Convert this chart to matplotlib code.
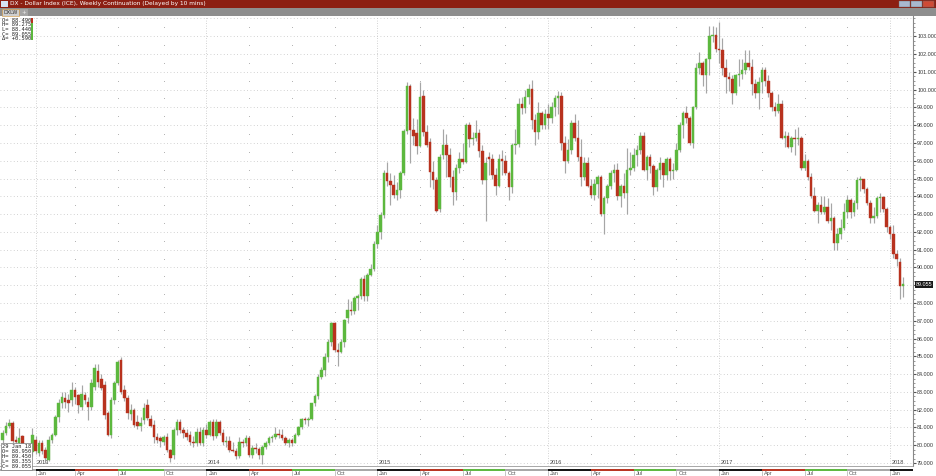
"""Weekly candlestick chart of the Dollar Index (ICE), Oct 2012 - Jan 2018."""
import matplotlib
matplotlib.use("Agg")
import matplotlib.pyplot as plt
from matplotlib.patches import Rectangle
import numpy as np
import pandas as pd

# --- Data: weekly OHLC, first bar is the week of 29 Oct 2012 ---
START_WEEK = "2012-10-29"

opens = [
    80.30, 80.67, 81.08, 81.25, 80.30, 80.12, 80.50, 79.96, 79.55, 79.60,
    80.29, 79.55, 80.10, 79.73, 79.17, 80.29, 80.57, 81.60, 82.36, 82.65,
    82.55, 82.54, 83.10, 82.82, 82.17, 82.82, 82.45, 82.17, 83.30, 84.20,
    83.70, 83.39, 81.80, 80.57, 82.54, 83.48, 84.80, 83.10, 82.64, 81.73,
    81.98, 81.30, 81.10, 81.42, 82.26, 81.50, 81.14, 80.48, 80.40, 80.20,
    80.48, 79.73, 79.45, 80.86, 81.33, 80.86, 80.67, 80.57, 80.20, 80.10,
    80.76, 80.10, 80.85, 80.60, 81.30, 80.50, 81.30, 80.70, 80.20, 80.25,
    79.75, 79.70, 79.40, 80.20, 80.15, 80.40, 79.45, 79.85, 79.80, 79.45,
    79.90, 80.10, 80.40, 80.45, 80.65, 80.60, 80.40, 80.10, 80.30, 80.15,
    80.60, 81.00, 81.45, 81.40, 81.50, 82.36, 82.75, 83.82, 84.23, 84.98,
    85.82, 86.86, 85.36, 85.26, 85.82, 87.14, 87.60, 87.55, 88.30, 88.40,
    89.35, 88.40, 89.60, 89.90, 91.30, 92.00, 92.95, 95.30, 94.85, 94.65,
    94.10, 94.35, 95.30, 97.70, 100.20, 97.75, 97.55, 96.85, 99.64, 97.63,
    97.07, 95.38, 94.90, 93.30, 96.30, 96.90, 96.30, 95.10, 94.26, 95.60,
    96.10, 95.95, 98.00, 97.20, 97.30, 97.55, 96.55, 94.90, 96.20, 96.10,
    95.20, 94.60, 96.10, 96.00, 95.30, 94.50, 96.90, 96.95, 99.20, 98.95,
    99.60, 100.05, 98.30, 97.60, 98.70, 98.00, 98.60, 98.40, 99.00, 99.55,
    99.65, 97.00, 96.00, 96.60, 98.10, 97.30, 96.20, 95.10, 95.90, 94.60,
    94.10, 94.70, 95.10, 93.00, 93.90, 94.60, 95.30, 95.50, 94.00, 94.60,
    94.20, 95.50, 95.60, 96.30, 96.60, 97.40, 95.50, 96.20, 95.70, 94.50,
    95.50, 95.85, 95.20, 96.10, 95.40, 95.50, 96.60, 98.00, 98.70, 98.40,
    97.00, 99.00, 101.20, 101.50, 100.80, 101.70, 103.00, 103.05, 102.30, 102.20,
    101.20, 100.70, 100.60, 99.80, 100.80, 100.90, 101.10, 101.50, 101.25, 100.30,
    99.80, 100.40, 101.10, 100.50, 99.80, 99.00, 98.80, 99.20, 97.30, 97.40,
    96.75, 97.30, 97.20, 97.30, 95.60, 96.00, 95.10, 94.00, 93.20, 93.50,
    93.10, 93.40, 92.60, 92.80, 91.35, 91.90, 92.20, 93.10, 93.80, 93.10,
    93.60, 94.90, 94.95, 94.40, 93.65, 92.80, 92.90, 93.90, 93.95, 93.30,
    92.30, 91.90, 90.75, 90.30, 88.95,
]

highs = [
    80.85, 81.30, 81.46, 81.35, 80.50, 80.95, 80.60, 80.05, 79.90, 80.95,
    80.50, 80.30, 80.30, 79.90, 80.50, 80.70, 81.70, 82.60, 83.00, 83.00,
    82.90, 83.57, 83.30, 82.90, 83.40, 83.00, 82.70, 83.70, 84.57, 84.57,
    84.00, 83.60, 81.90, 82.70, 83.60, 84.80, 84.95, 83.40, 82.80, 82.30,
    82.10, 81.70, 81.60, 82.40, 82.60, 81.70, 81.40, 80.70, 80.50, 80.60,
    80.70, 79.80, 80.95, 81.50, 81.50, 81.00, 80.90, 80.80, 80.50, 80.95,
    81.00, 81.00, 81.20, 81.40, 81.50, 81.45, 81.40, 80.90, 80.50, 80.50,
    80.20, 79.85, 80.45, 80.35, 80.60, 80.50, 80.00, 80.10, 79.90, 80.00,
    80.25, 80.50, 80.60, 81.05, 80.90, 80.90, 80.50, 80.40, 80.40, 80.70,
    81.10, 81.55, 81.60, 81.60, 82.40, 82.90, 84.00, 84.40, 85.20, 85.95,
    86.95, 86.95, 85.75, 85.95, 87.10, 88.20, 88.10, 88.40, 88.50, 89.45,
    89.55, 89.70, 90.20, 91.50, 92.40, 93.10, 95.50, 95.95, 95.30, 95.20,
    94.80, 95.40, 97.80, 100.40, 100.30, 98.40, 98.35, 100.40, 100.00, 98.00,
    97.30, 96.00, 95.10, 96.40, 97.80, 97.50, 96.70, 95.50, 95.80, 96.50,
    97.00, 98.10, 98.15, 97.60, 98.30, 97.80, 96.90, 96.20, 96.50, 96.40,
    95.60, 96.40, 96.60, 96.30, 95.40, 97.00, 97.80, 99.50, 99.60, 100.00,
    100.30, 100.55, 98.60, 99.30, 98.80, 98.90, 99.20, 99.30, 99.70, 99.90,
    99.85, 97.40, 97.20, 98.30, 98.60, 98.30, 97.20, 96.20, 96.20, 95.00,
    95.00, 95.20, 95.20, 94.00, 94.70, 95.50, 95.80, 95.90, 94.70, 95.30,
    96.70, 96.50, 96.70, 96.90, 97.60, 97.60, 96.30, 96.40, 95.80, 95.60,
    96.20, 95.90, 96.20, 96.20, 95.90, 97.00, 98.20, 98.80, 99.10, 98.50,
    99.10, 101.50, 102.10, 101.60, 101.80, 103.60, 103.60, 103.50, 103.82, 102.90,
    101.70, 101.00, 100.80, 100.90, 101.70, 101.70, 102.25, 102.20, 101.70, 100.60,
    100.70, 101.25, 101.25, 100.80, 99.90, 99.30, 99.75, 99.40, 97.70, 97.60,
    97.40, 97.80, 97.90, 97.40, 96.40, 96.10, 95.30, 94.50, 93.70, 94.00,
    94.00, 93.90, 93.60, 92.90, 92.20, 92.70, 93.60, 94.10, 93.90, 93.80,
    95.10, 95.15, 95.00, 94.50, 93.80, 93.40, 94.00, 94.20, 94.00, 93.40,
    92.40, 92.40, 91.00, 90.55, 89.45,
]

lows = [
    80.15, 80.55, 80.95, 80.10, 79.95, 79.85, 79.80, 79.40, 79.40, 79.40,
    79.50, 79.40, 79.50, 79.00, 79.10, 80.10, 80.50, 81.30, 82.10, 82.10,
    81.89, 82.20, 82.30, 81.80, 82.00, 82.30, 81.42, 82.00, 83.10, 83.30,
    83.10, 81.50, 80.50, 80.40, 82.30, 83.40, 82.90, 82.50, 81.50, 81.40,
    81.00, 80.90, 80.80, 81.20, 81.40, 81.00, 80.10, 80.10, 79.90, 80.00,
    79.60, 79.05, 79.20, 80.60, 80.70, 80.40, 80.30, 80.00, 79.90, 79.95,
    80.00, 79.95, 80.40, 80.50, 80.30, 80.40, 80.60, 80.00, 79.90, 79.60,
    79.60, 79.25, 79.30, 79.90, 79.95, 79.35, 79.30, 79.55, 79.20, 78.95,
    79.80, 80.00, 80.20, 80.35, 80.40, 80.30, 80.00, 79.90, 79.95, 80.10,
    80.50, 80.90, 81.20, 81.10, 81.40, 82.20, 82.60, 83.70, 83.90, 84.70,
    85.60, 85.25, 84.47, 85.20, 85.50, 86.90, 87.30, 87.40, 87.60, 88.20,
    88.10, 88.10, 89.50, 89.80, 91.10, 91.60, 92.80, 94.60, 93.50, 93.90,
    93.80, 93.90, 95.20, 97.50, 95.90, 96.90, 96.40, 96.80, 97.40, 96.80,
    94.50, 94.40, 93.10, 93.10, 96.10, 95.10, 94.50, 93.50, 93.80, 95.30,
    95.80, 95.90, 96.80, 96.90, 97.10, 96.20, 94.70, 92.60, 95.20, 95.00,
    94.10, 94.50, 95.20, 95.20, 93.80, 94.20, 96.40, 96.80, 98.60, 98.70,
    99.20, 97.80, 96.90, 97.20, 97.80, 97.80, 97.80, 98.10, 98.50, 98.60,
    96.60, 95.30, 95.90, 96.40, 97.10, 96.00, 94.60, 94.90, 94.50, 93.90,
    93.80, 93.90, 92.90, 91.90, 93.60, 94.40, 94.80, 93.80, 93.40, 93.90,
    93.00, 95.20, 95.40, 95.70, 96.40, 95.40, 94.90, 95.30, 94.10, 94.30,
    95.00, 94.50, 94.90, 94.90, 95.00, 95.40, 96.50, 97.30, 98.10, 96.90,
    96.70, 98.90, 100.90, 100.20, 99.80, 100.80, 102.70, 102.10, 101.50, 100.80,
    99.80, 99.90, 99.20, 99.70, 100.20, 100.60, 100.90, 101.10, 99.70, 99.50,
    98.90, 99.80, 100.20, 99.60, 98.80, 98.50, 98.70, 97.20, 96.80, 96.70,
    96.50, 96.30, 96.90, 95.50, 95.50, 94.90, 93.90, 93.10, 92.50, 93.00,
    93.00, 92.50, 92.10, 91.00, 91.00, 91.60, 92.10, 92.80, 92.80, 92.90,
    93.30, 94.30, 94.20, 93.50, 92.50, 92.50, 92.80, 93.10, 93.10, 92.00,
    91.60, 90.55, 90.10, 88.25, 88.36,
]

closes = [
    80.67, 81.08, 81.25, 80.22, 80.20, 80.40, 79.96, 79.55, 79.62, 80.57,
    79.65, 80.10, 79.70, 79.26, 80.29, 80.57, 81.60, 82.36, 82.73, 82.45,
    82.40, 83.10, 82.70, 82.26, 82.90, 82.54, 82.17, 83.48, 84.33, 83.57,
    83.20, 81.70, 80.57, 82.54, 83.48, 84.70, 83.00, 82.64, 81.80, 82.00,
    81.14, 81.10, 81.25, 82.07, 81.51, 81.10, 80.48, 80.29, 80.25, 80.48,
    79.73, 79.26, 80.86, 81.33, 80.86, 80.67, 80.48, 80.20, 80.10, 80.76,
    80.10, 80.85, 80.60, 81.30, 80.50, 81.30, 80.70, 80.20, 80.25, 79.75,
    79.70, 79.40, 80.20, 80.15, 80.40, 79.45, 79.85, 79.80, 79.45, 79.90,
    80.10, 80.40, 80.45, 80.65, 80.60, 80.40, 80.10, 80.30, 80.15, 80.60,
    81.00, 81.45, 81.40, 81.50, 82.36, 82.75, 83.82, 84.23, 84.98, 85.82,
    86.86, 85.36, 85.26, 85.82, 87.04, 87.60, 87.55, 88.30, 88.40, 89.35,
    88.40, 89.60, 89.90, 91.30, 92.00, 92.95, 95.30, 94.85, 94.65, 94.10,
    94.35, 95.30, 97.70, 100.20, 97.75, 97.40, 96.85, 99.60, 97.63, 96.90,
    95.38, 94.90, 93.20, 96.20, 96.90, 96.30, 95.10, 94.26, 95.60, 96.10,
    95.95, 98.00, 97.20, 97.30, 97.55, 96.55, 94.90, 95.90, 96.10, 95.20,
    94.60, 96.10, 96.00, 95.30, 94.50, 96.90, 96.95, 99.20, 98.95, 99.60,
    100.05, 98.30, 97.60, 98.70, 98.00, 98.60, 98.40, 99.00, 99.55, 99.65,
    97.00, 96.00, 96.60, 98.10, 97.30, 96.20, 95.10, 95.90, 94.60, 94.10,
    94.70, 95.10, 93.00, 93.90, 94.60, 95.30, 95.50, 94.00, 94.60, 94.20,
    95.50, 95.60, 96.30, 96.60, 97.40, 95.50, 96.20, 95.70, 94.50, 95.50,
    95.85, 95.20, 96.10, 95.40, 95.50, 96.60, 98.00, 98.70, 98.40, 97.00,
    99.00, 101.20, 101.50, 100.80, 101.70, 103.00, 103.05, 102.30, 102.20, 101.20,
    100.70, 100.60, 99.80, 100.80, 100.90, 101.10, 101.50, 101.25, 100.30, 99.80,
    100.40, 101.10, 100.50, 99.80, 99.00, 98.80, 99.20, 97.30, 97.40, 96.75,
    97.30, 97.20, 97.30, 95.60, 96.00, 95.10, 94.00, 93.20, 93.50, 93.10,
    93.40, 92.60, 92.80, 91.35, 91.90, 92.20, 93.10, 93.80, 93.10, 93.60,
    94.90, 94.95, 94.40, 93.65, 92.80, 92.90, 93.90, 93.95, 93.30, 92.30,
    91.90, 90.75, 90.45, 88.95, 89.055,
]

price_ticks = list(range(79, 104))
grid_levels = list(range(79, 105))
quarter_months = [1, 4, 7, 10]
month_names = {1: "Jan", 4: "Apr", 7: "Jul", 10: "Oct"}

header_lines = ["O= 88.490", "H= 89.275", "L= 88.440", "C= 89.055", "Δ= +0.590"]
last_bar_lines = ["29 Jan 18", "O= 88.950", "H= 89.450", "L= 88.355", "C= 89.055"]
TITLE = "DX - Dollar Index (ICE), Weekly Continuation (Delayed by 10 mins)"

# --- Colors ---
UP = "#5cb83e"
DOWN = "#b8321e"
WICK = "#a6a6a6"
GRID = "#c4c4c4"
QUARTER_COLORS = {1: "#111111", 4: "#b8321e", 7: "#5cb83e", 10: "#a6a6a6"}

W, H = 936, 476
AXIS_FONT = "Liberation Sans"


def fx(px):
    return px / W


def fy(py):
    return 1 - py / H


dates = pd.date_range(START_WEEK, periods=len(closes), freq="W-MON")
x = np.arange(len(closes))
o = np.array(opens)
hi = np.array(highs)
lo = np.array(lows)
c = np.array(closes)

fig = plt.figure(figsize=(W / 100, H / 100), dpi=100)
fig.patch.set_facecolor("white")

# main price panel
ax = fig.add_axes([0, fy(466), fx(913), (466 - 16) / H])
x0, x1 = -0.82, 277.0
ax.set_xlim(x0, x1)
ax.set_ylim(78.83, 104.14)

for lvl in grid_levels:
    ax.axhline(lvl, color=GRID, lw=0.6, ls=(0, (1, 3)), zorder=0)

# quarter / year positions = first weekly bar of that month
marks = []
for yr in range(2013, 2019):
    for m in quarter_months:
        idx = np.where((dates.year == yr) & (dates.month == m))[0]
        if len(idx):
            marks.append((int(idx[0]), yr, m))

for pos, yr, m in marks:
    if m == 1:
        ax.axvline(pos, color=GRID, lw=0.6, ls=(0, (1, 2)), zorder=0)
        ax.text(pos + 0.4, 78.86, str(yr), fontsize=4, color="#444444",
                family=AXIS_FONT, ha="left", va="bottom")
    else:
        ax.scatter([pos] * (len(grid_levels) - 1),
                   [lvl + 0.5 for lvl in grid_levels[:-1]],
                   s=0.5, color="#b0b0b0", lw=0, zorder=0)

# candles
ax.vlines(x, lo, hi, color=WICK, lw=0.85, zorder=2)
body_lo = np.minimum(o, c)
body_h = np.maximum(np.abs(c - o), 0.05)
colors = [UP if cc >= oo else DOWN for oo, cc in zip(o, c)]
ax.bar(x, body_h, bottom=body_lo, width=0.78, color=colors,
       edgecolor=colors, linewidth=0.3, zorder=3)

ax.yaxis.tick_right()
ax.set_yticks(price_ticks)
ax.set_yticklabels([f"{p:.3f}" for p in price_ticks], family=AXIS_FONT)
ax.set_yticks(np.arange(79, 104.01, 0.25), minor=True)
ax.tick_params(axis="y", which="major", labelsize=3.9, length=2.0, pad=1.0,
               colors="#555555", labelcolor="#333333")
ax.tick_params(axis="y", which="minor", length=1.1, colors="#888888")
ax.set_xticks([])
for side in ("top", "left"):
    ax.spines[side].set_visible(False)
ax.spines["right"].set_color("#888888")
ax.spines["bottom"].set_color("#999999")
ax.spines["right"].set_linewidth(0.8)
ax.spines["bottom"].set_linewidth(0.6)

# last price tag (sits over the 89.000 label, as in the terminal)
ax.text(1.003, closes[-1], f"{closes[-1]:.3f}", transform=ax.get_yaxis_transform(),
        fontsize=3.9, color="white", family=AXIS_FONT, ha="left", va="center",
        zorder=6, bbox=dict(boxstyle="square,pad=0.2", fc="#1a1a1a", ec="none"))

# bottom time strip
ax2 = fig.add_axes([0, 0, fx(913), 10 / H])
ax2.set_xlim(x0, x1)
ax2.set_ylim(0, 10)
ax2.axis("off")
starts = [(x0, 10)] + [(p, m) for p, yr, m in marks]
for k, (p, m) in enumerate(starts):
    end = starts[k + 1][0] if k + 1 < len(starts) else x1
    ax2.plot([p, end], [6.2, 6.2], color=QUARTER_COLORS[m], lw=1.4,
             solid_capstyle="butt")
for p, yr, m in marks:
    ax2.plot([p, p], [0.5, 4.8], color="#999999", lw=0.4)
    ax2.text(p + 0.6, 2.6, month_names[m], fontsize=4, color="#555555",
             family=AXIS_FONT, ha="left", va="center")

# window title bar and tab strip
fig.add_artist(Rectangle((0, fy(8)), 1, 8 / H, transform=fig.transFigure,
                         fc="#8c1f12", ec="none"))
fig.add_artist(Rectangle((fx(1), fy(7)), fx(7), 6 / H, transform=fig.transFigure,
                         fc="#d6e2f2", ec="none"))
fig.text(fx(10), fy(4), TITLE, fontsize=4.2, color="white", va="center", ha="left")
for bx, col in [(899, "#a9b9cf"), (911, "#a9b9cf"), (923, "#cf4a35")]:
    fig.add_artist(Rectangle((fx(bx), fy(7)), fx(11), 6 / H,
                             transform=fig.transFigure, fc=col, ec="#6a6a6a", lw=0.3))
fig.add_artist(Rectangle((0, fy(16)), 1, 8 / H, transform=fig.transFigure,
                         fc="#8e8e8e", ec="none"))
fig.add_artist(Rectangle((fx(2), fy(16)), fx(17), 7 / H, transform=fig.transFigure,
                         fc="#cfcfcf", ec="#d89a3a", lw=0.4))
fig.text(fx(10.5), fy(12.5), "DXLW", fontsize=3.6, color="#333333",
         ha="center", va="center")
fig.add_artist(Rectangle((fx(20), fy(16)), fx(8), 7 / H, transform=fig.transFigure,
                         fc="#a4a4a4", ec="none"))
fig.text(fx(24), fy(12.5), "+", fontsize=4, color="#eeeeee", ha="center", va="center")

# header readout (top left)
for k, line in enumerate(header_lines):
    fig.text(fx(2), fy(20 + k * 4.7), line, fontsize=3.9, color="#222222",
             family="DejaVu Sans Mono", ha="left", va="center")
fig.add_artist(Rectangle((fx(31), fy(23)), fx(2), 5 / H, transform=fig.transFigure,
                         fc=DOWN, ec="none"))
fig.add_artist(Rectangle((fx(31), fy(40)), fx(2), 17 / H, transform=fig.transFigure,
                         fc=UP, ec="none"))

# last bar readout box (bottom left)
fig.add_artist(Rectangle((fx(1), fy(470)), fx(31), 27 / H, transform=fig.transFigure,
                         fc="white", ec="#777777", lw=0.5, zorder=5))
for k, line in enumerate(last_bar_lines):
    fig.text(fx(2.5), fy(446.5 + k * 5.1), line, fontsize=3.9, color="#222222",
             family="DejaVu Sans Mono", ha="left", va="center", zorder=6)

fig.savefig("out.png", dpi=100, facecolor="white")
plt.close(fig)
